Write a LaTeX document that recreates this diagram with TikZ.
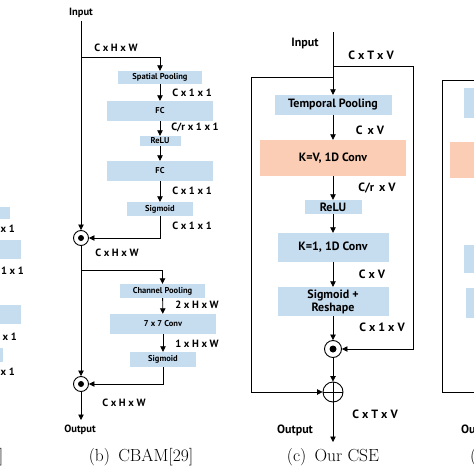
\documentclass[tikz,border=0pt]{standalone}
\usepackage{fontspec}
\setsansfont{PT Sans}
\usetikzlibrary{arrows.meta}
\definecolor{seblue}{HTML}{C6DCEF}
\definecolor{seorange}{HTML}{FBCDB4}
\tikzset{arr/.style={-{Triangle[length=5.5pt,width=5.5pt]}, line width=0.8pt}}
\tikzset{smallbox/.style={fill=seblue, inner sep=0pt, font=\sffamily\bfseries\fontsize{8.5}{9}\selectfont}}
\tikzset{bigbox/.style={fill=seblue, inner sep=0pt, align=center, font=\sffamily\bfseries\fontsize{12}{13}\selectfont}}
\tikzset{convbox/.style={bigbox, fill=seorange}}
\tikzset{dimlab/.style={font=\sffamily\bfseries\fontsize{10.5}{12}\selectfont}}
\tikzset{biglab/.style={font=\sffamily\bfseries\fontsize{12}{13}\selectfont}}
\tikzset{op/.style={circle, draw, line width=0.9pt, inner sep=0pt}}
\tikzset{caption/.style={font=\fontsize{17.5}{19}\selectfont}}

\begin{document}
\begin{tikzpicture}[x=1pt, y=-1pt]
\useasboundingbox (0,0) rectangle (474,474);
\clip (0,0) rectangle (474,474);

% (a) SE, cut off on the left
\fill[seblue] (-40,207) rectangle (10,219);
\fill[seblue] (-40,240) rectangle (21,259);
\fill[seblue] (-40,305) rectangle (21,324);
\fill[seblue] (-40,348) rectangle (3,362);
\node[dimlab, anchor=east, inner sep=0pt] (la1) at (15,229) {x 1};
\node[dimlab, anchor=east, inner sep=0pt] (la2) at (24,271) {1 x 1};
\node[dimlab, anchor=east, inner sep=0pt] (la3) at (17,337) {x 1};
\node[dimlab, anchor=east, inner sep=0pt] (la4) at (15,372) {x 1};
\node[caption, anchor=east, inner sep=0pt] (capa) at (3.5,457) {]};

% (b) CBAM
\node[dimlab] (inB) at (81,13) {Input};
\node[smallbox, minimum width=84pt, minimum height=13pt] (sp) at (160,77.5) {Spatial Pooling};
\node[smallbox, minimum width=106pt, minimum height=20pt] (fc1) at (160,111) {FC};
\node[smallbox, minimum width=41pt, minimum height=10pt] (relu1) at (160,141) {ReLU};
\node[smallbox, minimum width=106pt, minimum height=20pt] (fc2) at (160,171) {FC};
\node[smallbox, minimum width=66pt, minimum height=14pt] (sig1) at (160,209) {Sigmoid};
\node[op, minimum size=15pt] (m1) at (81,238) {};
\node[smallbox, minimum width=85pt, minimum height=14pt] (cp) at (162.5,291) {Channel Pooling};
\node[smallbox, minimum width=106pt, minimum height=20pt] (conv7) at (163,324) {7 x 7 Conv};
\node[smallbox, minimum width=66pt, minimum height=15pt] (sig2) at (163,359.5) {Sigmoid};
\node[op, minimum size=15pt] (m2) at (81,384) {};
\node[dimlab] (outB) at (80,430) {Output};
\coordinate (b1) at (81,57);
\coordinate (b2) at (81,270);
\coordinate (b9) at (81,420);
\fill (m1.center) circle (3pt);
\fill (m2.center) circle (3pt);
\draw[arr] (inB) -- (m1);
\draw[arr] (b1) -| (sp);
\draw[arr] (sp) -- (fc1);
\draw[arr] (fc1) -- (relu1);
\draw[arr] (relu1) -- (fc2);
\draw[arr] (fc2) -- (sig1);
\draw[arr] (sig1) |- (m1);
\draw[arr] (m1) -- (m2);
\draw[arr] (b2) -| (cp);
\draw[arr] (cp) -- (conv7);
\draw[arr] (conv7) -- (sig2);
\draw[arr] (sig2) |- (m2);
\draw[arr] (m2) -- (b9);
\node[dimlab] (lb1) at (116,48) {C x H x W};
\node[dimlab] (lb2) at (192,93) {C x 1 x 1};
\node[dimlab] (lb3) at (195,127) {C/r x 1 x 1};
\node[dimlab] (lb4) at (192,191) {C x 1 x 1};
\node[dimlab] (lb5) at (192,226) {C x 1 x 1};
\node[dimlab] (lb6) at (117,253) {C x H x W};
\node[dimlab] (lb7) at (197,305) {2 x H x W};
\node[dimlab] (lb8) at (197,344) {1 x H x W};
\node[dimlab] (lb9) at (124,403) {C x H x W};
\node[caption] (capb) at (141,457) {(b)\, CBAM[29]};

% (c) Our CSE
\node[biglab] (inC) at (305,43) {Input};
\node[bigbox, minimum width=117pt, minimum height=20pt] (tp) at (333,105) {Temporal Pooling};
\node[convbox, minimum width=146pt, minimum height=36pt] (conv1) at (333,158) {K=V, 1D Conv};
\node[bigbox, minimum width=57pt, minimum height=14pt] (relu2) at (333,207) {ReLU};
\node[bigbox, minimum width=111pt, minimum height=29pt] (conv2) at (333,247.5) {K=1, 1D Conv};
\node[bigbox, minimum width=111pt, minimum height=29pt] (sigr) at (333,301.5) {Sigmoid +\\Reshape};
\node[op, minimum size=17pt] (m3) at (333,349) {};
\node[op, minimum size=20pt] (a3) at (333,392) {};
\node[biglab] (outC) at (295,430) {Output};
\coordinate (c0) at (333,32);
\coordinate (c1) at (333,66);
\coordinate (c2) at (333,77);
\coordinate (c9) at (333,442);
\fill (m3.center) circle (3.5pt);
\draw[line width=0.9pt] (a3.north) -- (a3.south) (a3.west) -- (a3.east);
\draw[arr] (c0) -- (tp);
\draw[arr] (tp) -- (conv1);
\draw[arr] (conv1) -- (relu2);
\draw[arr] (relu2) -- (conv2);
\draw[arr] (conv2) -- (sigr);
\draw[arr] (sigr) -- (m3);
\draw[arr] (m3) -- (a3);
\draw[arr] (a3) -- (c9);
\draw[arr] (c1) -- ++(80,0) |- (m3);
\draw[arr] (c2) -- ++(-82,0) |- (a3);
\node[biglab] (lc1) at (371,55) {C x T x V};
\node[biglab] (lc2) at (370,130) {C\, x V};
\node[biglab] (lc3) at (377,188) {C/r\, x V};
\node[biglab] (lc4) at (372,274) {C x V};
\node[biglab] (lc5) at (382,327) {C x 1 x V};
\node[biglab] (lc6) at (375,414) {C x T x V};
\node[caption] (capc) at (333,457) {(c)\, Our CSE};

% (d), cut off on the right
\draw[line width=0.8pt] (500,80) -- (442,80) -- (442,392) -- (500,392);
\fill[seblue] (464,88) rectangle (500,118);
\fill[seorange] (450,142) rectangle (500,178);
\fill[seblue] (464,245) rectangle (500,273);
\fill[seblue] (466,288) rectangle (500,318);
\node[biglab, anchor=west, inner sep=0pt] (outD) at (461,430) {Output};
\node[caption, anchor=west, inner sep=0pt] (capd) at (470,457) {(};
\end{tikzpicture}
\end{document}
